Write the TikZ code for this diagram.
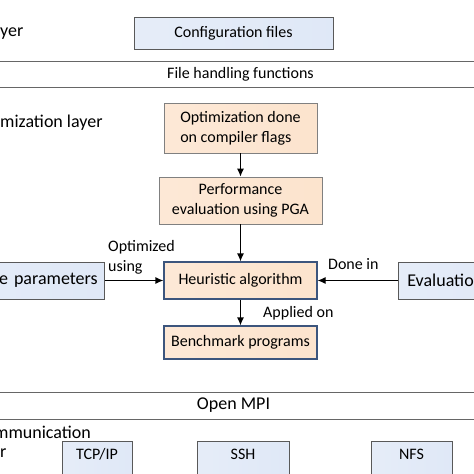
\documentclass[tikz,border=0pt]{standalone}
\usepackage{fontspec}
\setmainfont{Carlito}
\usepackage{tikz}
\usetikzlibrary{positioning,arrows.meta,calc}
\definecolor{boxblue}{RGB}{128,163,222}
\definecolor{boxorange}{RGB}{250,205,165}
\definecolor{boxedge}{RGB}{60,85,125}

\begin{document}
\begin{tikzpicture}[x=1pt, y=-1pt,
  midfont/.style={font=\fontsize{16}{20}\selectfont},
  bigfont/.style={font=\fontsize{18}{22}\selectfont},
  bluebox/.style={draw=black!65, line width=.7pt, left color=boxblue!20, middle color=boxblue, right color=boxblue!25, midfont},
  orangebox/.style={draw=black!50, line width=.7pt, left color=boxorange!45, middle color=boxorange, right color=boxorange!55, midfont},
  mainbox/.style={orangebox, draw=boxedge, line width=1.2pt},
  sepline/.style={draw=black!60, line width=.8pt},
  flow/.style={-{Latex[length=8pt,width=7pt]}, line width=1.2pt},
  sidelabel/.style={bigfont, anchor=west, inner sep=0pt},
  edgelabel/.style={midfont, anchor=west, inner sep=0pt, align=left}]

\useasboundingbox (0,0) rectangle (474,474);
\clip (0,0) rectangle (474,474);

\node[bluebox, minimum width=199pt, minimum height=32pt] (conf) at (233.5,33) {Configuration files};
\node[sidelabel] (inlayer) at (0,34) {yer};

\draw[sepline] (0,61) -- (474,61);
\node[midfont] (filefn) at (240.5,74) {File handling functions};
\draw[sepline] (0,87) -- (474,87);

\node[sidelabel] (optlayer) at (0,123) {mization layer};
\node[orangebox, minimum width=153pt, minimum height=50pt, align=left] (optflags) at (240.5,128) {Optimization done\\on compiler flags};
\node[orangebox, minimum width=163pt, minimum height=47pt, align=center] (perfpga) at (240.5,200.5) {Performance\\evaluation using PGA};
\node[mainbox, minimum width=153pt, minimum height=37pt] (heuristic) at (240.5,280.5) {Heuristic algorithm};
\node[mainbox, minimum width=153pt, minimum height=33pt] (bench) at (240.5,342.5) {Benchmark programs};

\node[bluebox, bigfont, anchor=east, text width=150pt, align=right, inner xsep=7pt, minimum height=37pt] (params) at (105,280.5) {e parameters};
\node[bluebox, bigfont, anchor=west, text width=100pt, align=left, inner xsep=9pt, minimum height=37pt] (evaluation) at (398,280.5) {Evaluatio};

\draw[flow] (optflags) -- (perfpga);
\draw[flow] (perfpga) -- (heuristic);
\draw[flow] (params) -- (heuristic);
\draw[flow] (evaluation) -- (heuristic);
\draw[flow] (heuristic) -- (bench);

\node[edgelabel] (optusing) at (108,257) {Optimized\\using};
\node[edgelabel] (donein) at (328,264) {Done in};
\node[edgelabel] (appliedon) at (263,313) {Applied on};

\draw[sepline] (0,392) -- (474,392);
\node[bigfont] (openmpi) at (233.5,405) {Open MPI};
\draw[sepline] (0,419) -- (474,419);

\node[sidelabel] (commlayer) at (-6,432) {mmunication};
\node[sidelabel] (commtail) at (0,453) {r};
\node[bluebox, anchor=north, minimum width=70pt, text height=12pt, text depth=30pt, inner ysep=6pt] (tcpip) at (97,441) {TCP/IP};
\node[bluebox, anchor=north, minimum width=92pt, text height=12pt, text depth=30pt, inner ysep=6pt] (ssh) at (243,441) {SSH};
\node[bluebox, anchor=north, minimum width=81pt, text height=12pt, text depth=30pt, inner ysep=6pt] (nfs) at (411.5,441) {NFS};

\end{tikzpicture}
\end{document}
